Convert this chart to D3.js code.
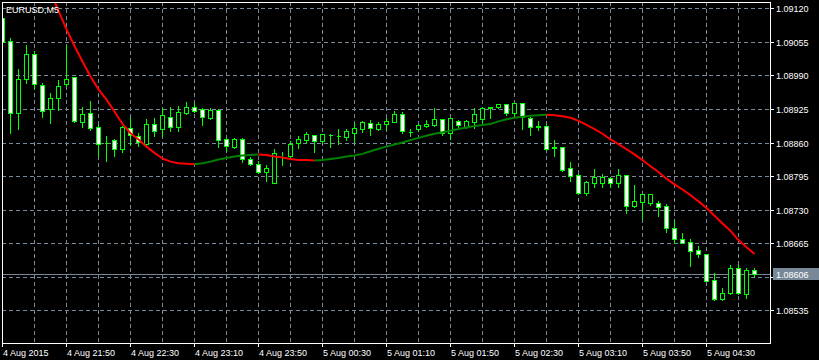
<!DOCTYPE html>
<html><head><meta charset="utf-8">
<script src="https://cdn.jsdelivr.net/npm/d3@7/dist/d3.min.js"></script>
<style>html,body{margin:0;padding:0;background:#000;}svg{display:block;}</style>
</head><body>
<svg id="c" width="819" height="360"></svg>
<script>
const symbolTitle = "EURUSD,M5";
const opens = [1.09101,1.09057,1.08918,1.08984,1.09031,1.08971,1.08924,1.08946,1.08973,1.08986,
1.08900,1.08917,1.08890,1.08860,1.08865,1.08847,1.08888,1.08873,1.08858,1.08895,
1.08886,1.08909,1.08891,1.08918,1.08928,1.08925,1.08908,1.08923,1.08866,1.08852,
1.08866,1.08828,1.08818,1.08802,1.08782,1.08831,1.08833,1.08860,1.08864,1.08875,
1.08862,1.08874,1.08872,1.08871,1.08879,1.08887,1.08897,1.08887,1.08895,1.08900,
1.08915,1.08880,1.08887,1.08892,1.08893,1.08905,1.08879,1.08902,1.08891,1.08899,
1.08905,1.08926,1.08928,1.08934,1.08917,1.08936,1.08907,1.08892,1.08892,1.08851,
1.08851,1.08810,1.08797,1.08763,1.08782,1.08782,1.08792,1.08782,1.08797,1.08738,
1.08745,1.08742,1.08742,1.08737,1.08694,1.08673,1.08667,1.08652,1.08644,1.08594,
1.08556,1.08568,1.08616,1.08567,1.08614];
const highs = [1.09103,1.09065,1.09004,1.09050,1.09039,1.08978,1.08958,1.08984,1.09050,1.08988,
1.08931,1.08942,1.08898,1.08875,1.08869,1.08894,1.08911,1.08880,1.08907,1.08909,
1.08929,1.08930,1.08932,1.08940,1.08939,1.08928,1.08929,1.08926,1.08871,1.08871,
1.08871,1.08833,1.08827,1.08818,1.08849,1.08844,1.08865,1.08875,1.08882,1.08877,
1.08878,1.08878,1.08888,1.08888,1.08900,1.08903,1.08906,1.08901,1.08910,1.08923,
1.08921,1.08889,1.08898,1.08905,1.08928,1.08907,1.08908,1.08905,1.08905,1.08928,
1.08931,1.08929,1.08935,1.08936,1.08938,1.08939,1.08912,1.08904,1.08898,1.08866,
1.08852,1.08825,1.08801,1.08787,1.08810,1.08800,1.08795,1.08810,1.08799,1.08780,
1.08761,1.08762,1.08749,1.08742,1.08711,1.08687,1.08676,1.08662,1.08645,1.08610,
1.08581,1.08625,1.08625,1.08618,1.08618];
const lows = [1.09054,1.08878,1.08886,1.08976,1.08965,1.08910,1.08898,1.08923,1.08970,1.08900,
1.08891,1.08884,1.08833,1.08825,1.08833,1.08842,1.08856,1.08853,1.08853,1.08872,
1.08872,1.08883,1.08882,1.08916,1.08919,1.08894,1.08905,1.08851,1.08844,1.08849,
1.08823,1.08816,1.08800,1.08786,1.08781,1.08816,1.08830,1.08850,1.08859,1.08842,
1.08860,1.08852,1.08858,1.08864,1.08861,1.08881,1.08875,1.08884,1.08885,1.08899,
1.08879,1.08873,1.08883,1.08891,1.08892,1.08875,1.08866,1.08888,1.08889,1.08888,
1.08893,1.08907,1.08926,1.08913,1.08909,1.08886,1.08874,1.08884,1.08845,1.08834,
1.08805,1.08786,1.08761,1.08758,1.08774,1.08774,1.08774,1.08774,1.08724,1.08736,
1.08711,1.08739,1.08718,1.08687,1.08666,1.08665,1.08621,1.08639,1.08591,1.08554,
1.08555,1.08567,1.08566,1.08558,1.08600];
const closes = [1.09055,1.08918,1.08984,1.09031,1.08973,1.08922,1.08946,1.08970,1.08984,1.08902,
1.08915,1.08888,1.08857,1.08860,1.08847,1.08890,1.08875,1.08861,1.08895,1.08882,
1.08913,1.08891,1.08919,1.08928,1.08922,1.08909,1.08923,1.08864,1.08854,1.08866,
1.08828,1.08818,1.08803,1.08810,1.08839,1.08832,1.08858,1.08866,1.08876,1.08862,
1.08876,1.08875,1.08873,1.08882,1.08888,1.08899,1.08888,1.08896,1.08902,1.08915,
1.08883,1.08881,1.08894,1.08895,1.08905,1.08879,1.08907,1.08893,1.08902,1.08915,
1.08926,1.08928,1.08934,1.08918,1.08936,1.08910,1.08890,1.08890,1.08848,1.08850,
1.08807,1.08796,1.08763,1.08784,1.08794,1.08793,1.08782,1.08797,1.08737,1.08747,
1.08760,1.08760,1.08736,1.08694,1.08673,1.08666,1.08650,1.08645,1.08592,1.08556,
1.08568,1.08616,1.08568,1.08614,1.08606];
// moving average line, first value at bar index maStartIndex
const maStartIndex = 6;
const maValues = [1.09152,1.09115,1.09079,1.09047,1.09017,1.08988,1.08963,1.08943,1.08920,1.08896,
1.08878,1.08866,1.08852,1.08840,1.08829,1.08823,1.08820,1.08819,1.08818,1.08820,
1.08823,1.08827,1.08830,1.08833,1.08835,1.08836,1.08837,1.08836,1.08833,1.08831,
1.08828,1.08826,1.08826,1.08825,1.08826,1.08828,1.08830,1.08833,1.08835,1.08838,
1.08843,1.08848,1.08852,1.08856,1.08860,1.08865,1.08869,1.08873,1.08877,1.08880,
1.08883,1.08886,1.08889,1.08892,1.08894,1.08896,1.08901,1.08905,1.08908,1.08910,
1.08912,1.08913,1.08914,1.08913,1.08911,1.08908,1.08902,1.08894,1.08886,1.08877,
1.08866,1.08857,1.08847,1.08837,1.08826,1.08814,1.08803,1.08790,1.08779,1.08769,
1.08758,1.08746,1.08733,1.08718,1.08703,1.08689,1.08671,1.08657,1.08644];
const priceTicks = [1.09120,1.09055,1.08990,1.08925,1.08860,1.08795,1.08730,1.08665,1.08600,1.08535];
const timeTickIndex = [0,8,16,24,32,40,48,56,64,72,80,88];
const timeTickLabels = ["4 Aug 2015","4 Aug 21:50","4 Aug 22:30","4 Aug 23:10","4 Aug 23:50","5 Aug 00:30","5 Aug 01:10","5 Aug 01:50","5 Aug 02:30","5 Aug 03:10","5 Aug 03:50","5 Aug 04:30"];
const bidPrice = 1.08606;

const W = 819, H = 360;
const L = 2, T = 2, R = 770, B = 343;
const FONT = "'Liberation Sans', Arial, sans-serif";
const GRID = "#778899";
const svg = d3.select("#c");
svg.append("rect").attr("width", W).attr("height", H).attr("fill", "#000");

const n = opens.length;
const x = d3.scaleLinear().domain([0, n - 1]).range([2.5, 2.5 + 8 * (n - 1)]);
const y = d3.scaleLinear().domain([1.08535, 1.09120]).range([310.3, 8.3]);
const px = v => Math.round(v) + 0.5;

svg.append("clipPath").attr("id", "plot").append("rect")
  .attr("x", L + 1).attr("y", T + 1).attr("width", R - L - 1).attr("height", B - T - 1);

const g = svg.append("g").attr("clip-path", "url(#plot)").attr("shape-rendering", "crispEdges");

// grid
const gridBars = d3.range(4, n, 4);
g.selectAll("line.vg").data(gridBars).join("line")
  .attr("x1", d => Math.floor(x(d)) + 0.5).attr("x2", d => Math.floor(x(d)) + 0.5)
  .attr("y1", T).attr("y2", B)
  .attr("stroke", GRID).attr("stroke-dasharray", "4,3");
g.selectAll("line.hg").data(priceTicks).join("line")
  .attr("x1", L).attr("x2", R)
  .attr("y1", d => px(y(d))).attr("y2", d => px(y(d)))
  .attr("stroke", GRID).attr("stroke-dasharray", "4,3");

// bid line
g.append("line").attr("x1", L).attr("x2", R)
  .attr("y1", px(y(bidPrice))).attr("y2", px(y(bidPrice)))
  .attr("stroke", GRID);

// candles
const bars = d3.range(n).map(i => ({i, o: opens[i], h: highs[i], l: lows[i], c: closes[i]}));
const cg = g.selectAll("g.candle").data(bars).join("g");
cg.append("line")
  .attr("x1", d => Math.floor(x(d.i)) + 0.5).attr("x2", d => Math.floor(x(d.i)) + 0.5)
  .attr("y1", d => Math.round(y(d.h)) + 0.5).attr("y2", d => Math.round(y(d.l)) + 0.5)
  .attr("stroke", "#00ff00");
cg.each(function(d) {
  const sel = d3.select(this);
  const cx = Math.floor(x(d.i)) + 0.5;
  const yt = Math.round(y(Math.max(d.o, d.c)));
  const yb = Math.round(y(Math.min(d.o, d.c)));
  if (yb - yt < 1) {
    sel.append("line").attr("x1", cx - 2).attr("x2", cx + 2)
      .attr("y1", yt + 0.5).attr("y2", yt + 0.5).attr("stroke", "#00ff00");
  } else {
    sel.append("rect").attr("x", cx - 2).attr("y", yt + 0.5)
      .attr("width", 4).attr("height", yb - yt)
      .attr("fill", d.c < d.o ? "#ffffff" : "#000000")
      .attr("stroke", "#00ff00");
  }
});

// moving average, coloured by direction
const maPts = maValues.map((v, j) => [x(maStartIndex + j), y(v)]);
const segs = [];
let lastCol = "#ff0000";
for (let j = 1; j < maValues.length; j++) {
  let col = maValues[j] > maValues[j - 1] ? "#008000" : (maValues[j] < maValues[j - 1] ? "#ff0000" : lastCol);
  if (segs.length && segs[segs.length - 1].col === col) segs[segs.length - 1].pts.push(maPts[j]);
  else segs.push({col, pts: [maPts[j - 1], maPts[j]]});
  lastCol = col;
}
const lg = svg.append("g").attr("clip-path", "url(#plot)");
lg.selectAll("path").data(segs).join("path")
  .attr("d", d => d3.line()(d.pts))
  .attr("fill", "none").attr("stroke", d => d.col).attr("stroke-width", 2)
  .attr("stroke-linejoin", "round");

// frame
const fr = svg.append("g").attr("shape-rendering", "crispEdges");
fr.append("line").attr("x1", L + 0.5).attr("x2", L + 0.5).attr("y1", T).attr("y2", B + 1).attr("stroke", "#fff");
fr.append("line").attr("x1", L).attr("x2", R + 1).attr("y1", T + 0.5).attr("y2", T + 0.5).attr("stroke", "#fff");
fr.append("line").attr("x1", R + 0.5).attr("x2", R + 0.5).attr("y1", T).attr("y2", B + 1).attr("stroke", "#fff");
fr.append("line").attr("x1", L).attr("x2", R + 1).attr("y1", B + 0.5).attr("y2", B + 0.5).attr("stroke", "#fff");

// price axis
const by = Math.round(y(bidPrice));
const pa = svg.append("g");
pa.selectAll("line").data(priceTicks).join("line")
  .attr("shape-rendering", "crispEdges")
  .attr("x1", R).attr("x2", R + 4)
  .attr("y1", d => px(y(d))).attr("y2", d => px(y(d))).attr("stroke", "#fff");
// labels hidden behind the bid label box are not shown (as in the reference)
pa.selectAll("text").data(priceTicks.filter(d => Math.abs(y(d) - by) > 10)).join("text")
  .attr("x", R + 6).attr("y", d => Math.round(y(d)) + 4)
  .attr("fill", "#fff").attr("font-family", FONT).attr("font-size", "9px")
  .text(d => d.toFixed(5));

// bid label
svg.append("rect").attr("x", R + 3).attr("y", by - 6).attr("width", 46).attr("height", 12)
  .attr("fill", GRID);
svg.append("text").attr("x", R + 6).attr("y", by + 4)
  .attr("fill", "#fff").attr("font-family", FONT).attr("font-size", "9px")
  .text(bidPrice.toFixed(5));

// time axis
const ta = svg.append("g");
ta.selectAll("line").data(timeTickIndex).join("line")
  .attr("shape-rendering", "crispEdges")
  .attr("x1", d => Math.floor(x(d)) + 0.5).attr("x2", d => Math.floor(x(d)) + 0.5)
  .attr("y1", B).attr("y2", B + 4).attr("stroke", "#fff");
ta.selectAll("text").data(timeTickIndex).join("text")
  .attr("x", d => Math.floor(x(d)) + 1).attr("y", 356)
  .attr("fill", "#fff").attr("font-family", FONT).attr("font-size", "9px")
  .text((d, i) => timeTickLabels[i]);

// title
svg.append("text").attr("x", 6).attr("y", 13)
  .attr("fill", "#fff").attr("font-family", FONT).attr("font-size", "9px")
  .text(symbolTitle);
</script>
</body></html>
